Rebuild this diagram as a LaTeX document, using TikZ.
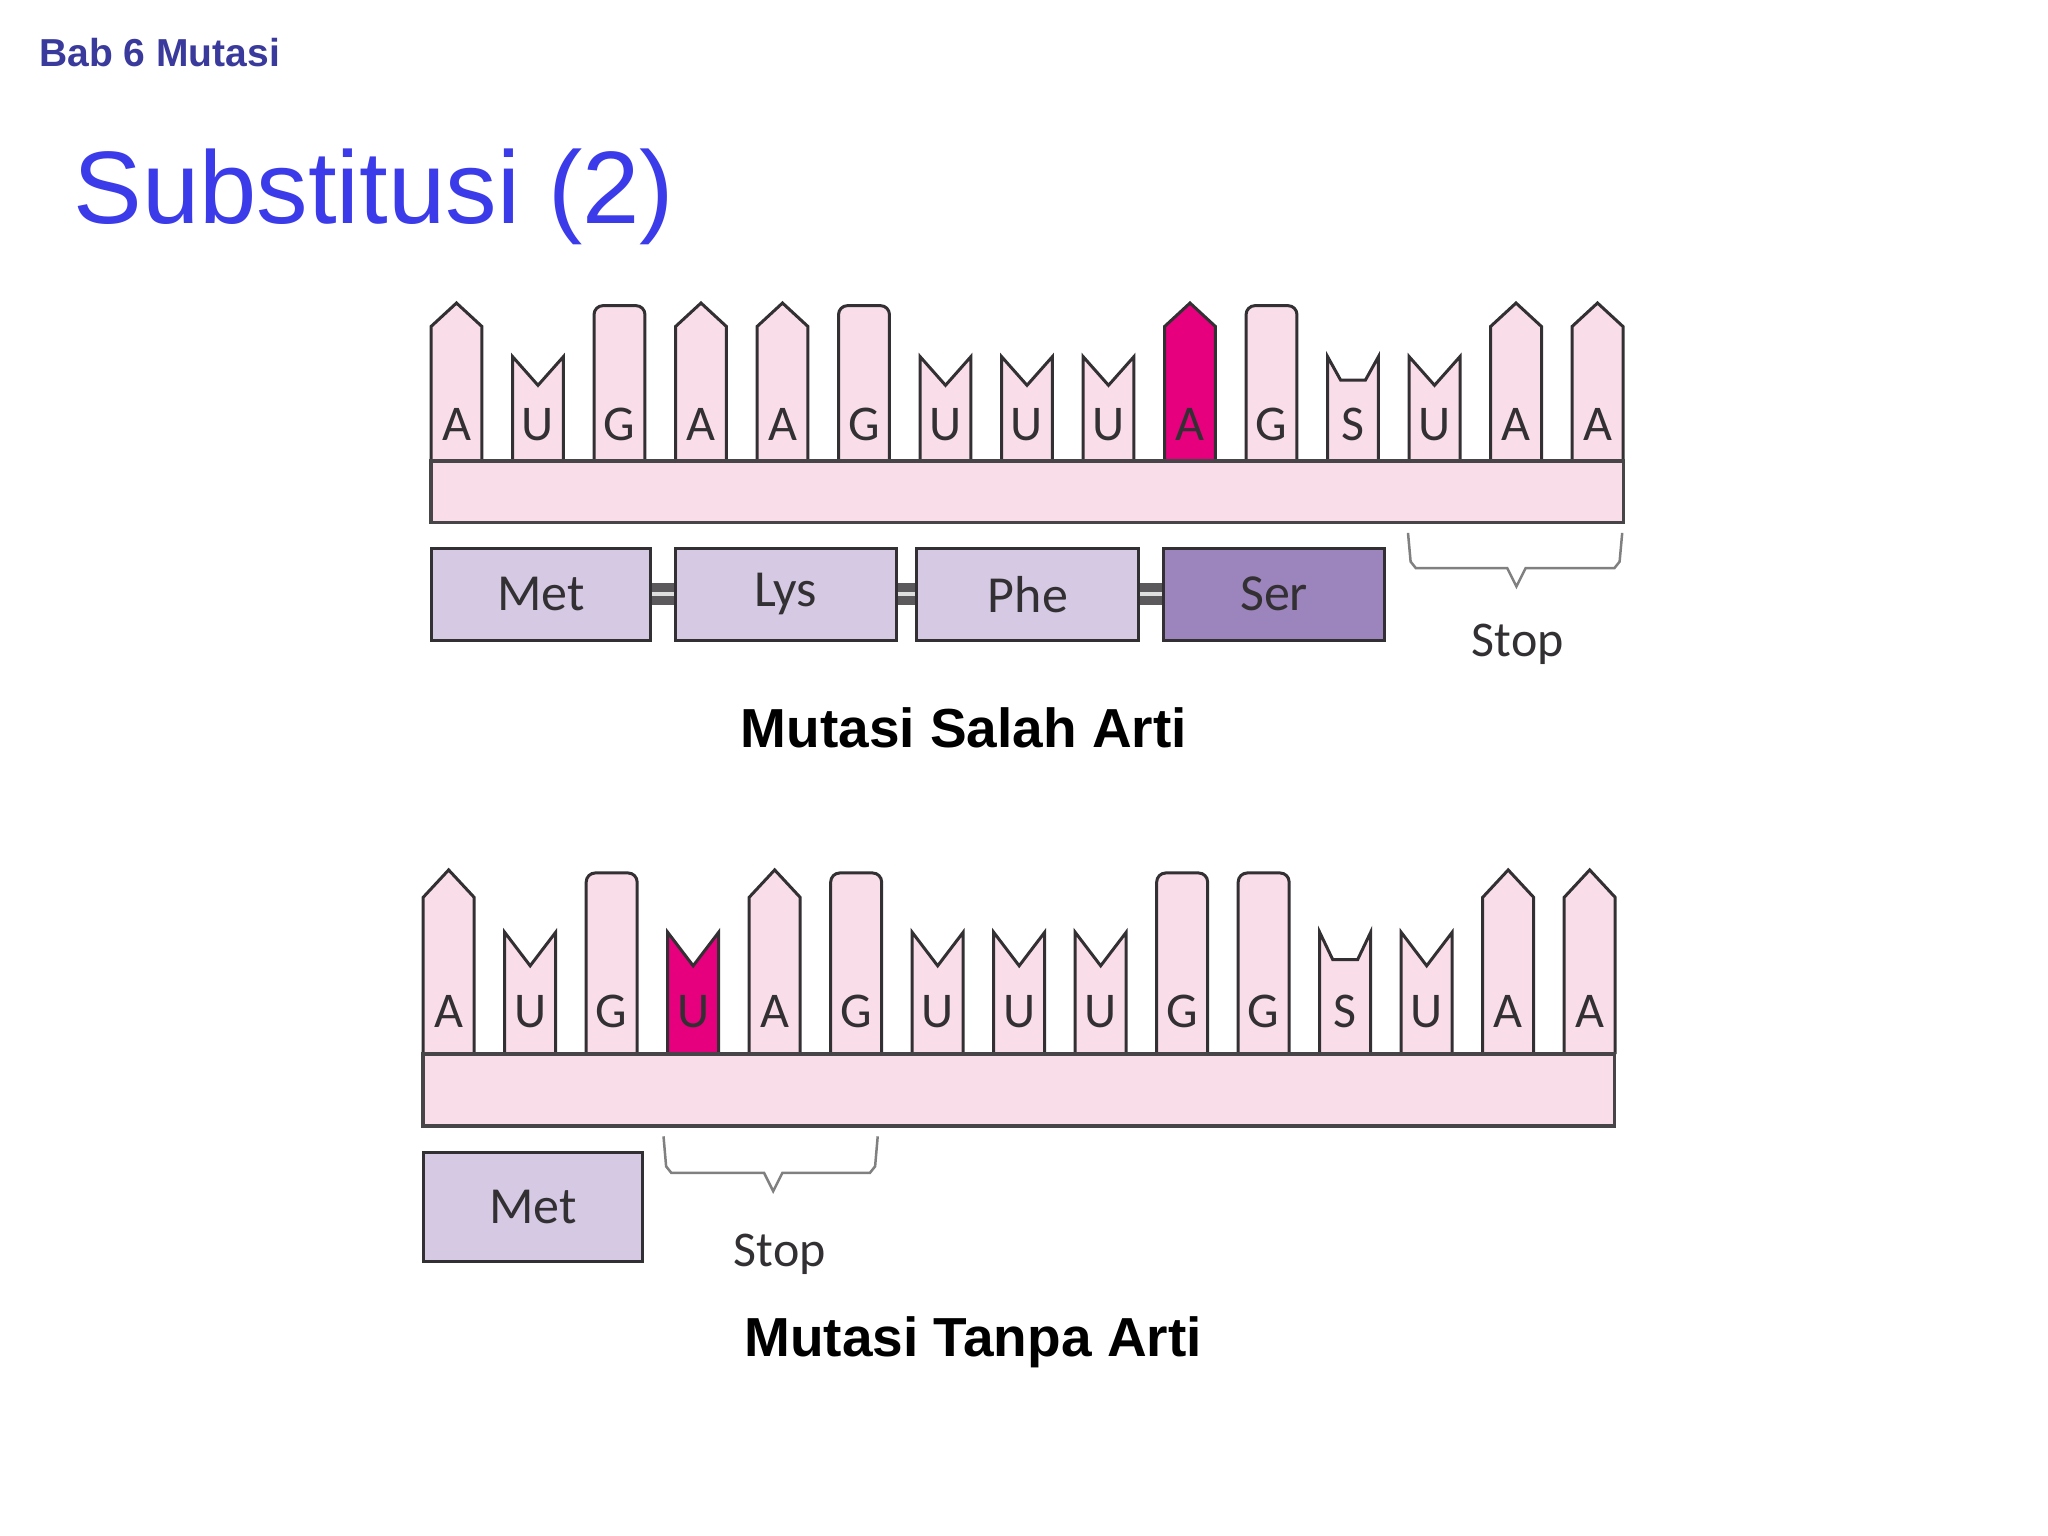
\documentclass[tikz,border=0pt]{standalone}
\usepackage{fontspec}
\setmainfont{Liberation Sans}
\newfontfamily\dnafont{Carlito}
\definecolor{pk}{HTML}{F9DEEA}
\definecolor{mag}{HTML}{E6007E}
\definecolor{bx}{HTML}{D6C9E3}
\definecolor{ser}{HTML}{9C84BC}
\definecolor{ttl}{HTML}{3B3BEA}
\definecolor{hdr}{HTML}{3A3A9C}
\definecolor{ln}{HTML}{333033}
\tikzset{x=1.306pt,y=-1.306pt,
 pil/.style={draw=ln,line width=3pt,line join=miter},
 bar/.style={draw=ln!90,line width=3.5pt,fill=pk},
 aa/.style={draw=ln,line width=3pt,fill=bx,minimum height=70*1.306pt,inner sep=0pt,font=\dnafont\fontsize{52}{52}\selectfont,text=ln},
 lt/.style={font=\dnafont\fontsize{50}{50}\selectfont,text=ln,inner sep=0pt},
 link/.style={draw=ln!80,line width=9pt,double=gray!25,double distance=4pt},
 brc/.style={draw=gray,line width=2.5pt},
 lab/.style={font=\bfseries\fontsize{55}{55}\selectfont}}
\newcommand\pillar[7]{% x, ybase, type, letter, fill, name, yscale
 \begin{scope}[shift={(#1,#2)},yscale=#7]
 \ifcase#3
  \draw[pil,fill=#5] (0,0)--(0,-103)--(19.5,-121)--(39,-103)--(39,0);
 \or
  \draw[pil,fill=#5,rounded corners=9pt] (0,0)--(0,-119)--(39,-119)--(39,0);
 \or
  \draw[pil,fill=#5] (0,0)--(0,-80)--(19.5,-58)--(39,-80)--(39,0);
 \or
  \draw[pil,fill=#5] (0,0)--(0,-80)--(10,-62)--(29,-62)--(39,-80)--(39,0);
 \fi
 \node[lt] (#6) at (19.5,-28) {#4};
 \end{scope}}
\begin{document}
\begin{tikzpicture}
\useasboundingbox[fill=white] (0,0) rectangle (1568,1176);
\node[anchor=west,font=\bfseries\fontsize{39}{39}\selectfont,text=hdr,inner sep=0pt] (hd) at (30,40) {Bab 6 Mutasi};
\node[anchor=base west,font=\fontsize{103}{103}\selectfont,text=ttl,inner sep=0pt] (tt) at (56,171) {Substitusi (2)};
% top strand
\foreach \i/\t/\l/\c in {0/0/A/pk,1/2/U/pk,2/1/G/pk,3/0/A/pk,4/0/A/pk,5/1/G/pk,6/2/U/pk,7/2/U/pk,8/2/U/pk,9/0/A/mag,10/1/G/pk,11/3/S/pk,12/2/U/pk,13/0/A/pk,14/0/A/pk}{
 \pillar{330+62.4*\i}{353}{\t}{\l}{\c}{t\i}{1}}
\draw[bar] (330,353) rectangle (1243,400);
\node[aa,fill=bx,minimum width=168*1.306pt] (met1) at (414,455) {Met};
\node[aa,fill=bx,minimum width=169*1.306pt] (lys) at (601.5,455) {Lys};
\node[aa,fill=bx,minimum width=170*1.306pt] (phe) at (787,455) {Phe};
\node[aa,fill=ser,minimum width=169*1.306pt] (ser) at (975.5,455) {Ser};
\draw[link] (met1.east)--(lys.west);
\draw[link] (lys.east)--(phe.west);
\draw[link] (phe.east)--(ser.west);
\coordinate (b1) at (1078,408);
\coordinate (b2) at (1242,408);
\draw[brc] (b1)--(1080,430)--++(4,5)--(1154,435)--(1161,449)--(1168,435)--(1236,435)--++(4,-5)--(b2);
\node[lt] (stop1) at (1162,493) {Stop};
\node[lab] (l1) at (738,557) {Mutasi Salah Arti};
% bottom strand
\foreach \i/\t/\l/\c in {0/0/A/pk,1/2/U/pk,2/1/G/pk,3/2/U/mag,4/0/A/pk,5/1/G/pk,6/2/U/pk,7/2/U/pk,8/2/U/pk,9/1/G/pk,10/1/G/pk,11/3/S/pk,12/2/U/pk,13/0/A/pk,14/0/A/pk}{
 \pillar{324+62.4*\i}{807}{\t}{\l}{\c}{b\i}{1.165}}
\draw[bar] (324,807) rectangle (1236,862);
\node[aa,fill=bx,minimum width=168*1.306pt,minimum height=84*1.306pt] (met2) at (408,924) {Met};
\coordinate (c1) at (508,870);
\coordinate (c2) at (672,870);
\draw[brc] (c1)--(510,893)--++(4,5)--(585,898)--(592,912)--(599,898)--(666,898)--++(4,-5)--(c2);
\node[lt] (stop2) at (597,960) {Stop};
\node[lab] (l2) at (745,1028) {Mutasi Tanpa Arti};
\end{tikzpicture}
\end{document}
